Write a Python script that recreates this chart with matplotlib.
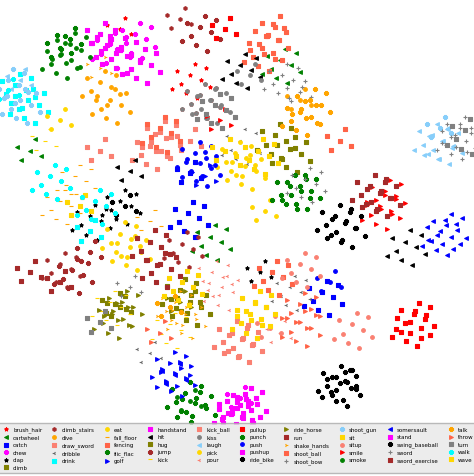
import matplotlib
matplotlib.use("Agg")
import matplotlib.pyplot as plt

# class name, colour, marker, cluster centres (pixel coords of the reference, y down)
labels = ["brush_hair", "cartwheel", "catch", "chew", "clap", "climb",
          "climb_stairs", "dive", "draw_sword", "dribble", "drink",
          "eat", "fall_floor", "fencing", "flic_flac", "golf",
          "handstand", "hit", "hug", "jump", "kick",
          "kick_ball", "kiss", "laugh", "pick", "pour",
          "pullup", "punch", "push", "pushup", "ride_bike",
          "ride_horse", "run", "shake_hands", "shoot_ball", "shoot_bow",
          "shoot_gun", "sit", "situp", "smile", "smoke",
          "somersault", "stand", "swing_baseball", "sword", "sword_exercise",
          "talk", "throw", "turn", "walk", "wave"]
colors = ["red", "green", "blue", "magenta", "black", "olive",
          "brown", "orange", "salmon", "dimgray", "cyan",
          "gold", "orange", "tomato", "green", "blue",
          "magenta", "black", "olive", "brown", "gold",
          "salmon", "gray", "lightskyblue", "gold", "salmon",
          "red", "green", "blue", "magenta", "black",
          "olive", "brown", "orange", "tomato", "gray",
          "lightskyblue", "gold", "salmon", "red", "green",
          "blue", "magenta", "black", "gray", "brown",
          "orange", "tomato", "gray", "cyan", "gold"]
markers = ["*", "<", "s", "P", "*", "s",
           "h", "o", "s", "3", "s",
           "o", "_", "s", "P", ">",
           "s", "<", "s", "P", "_",
           "s", "o", "<", "o", "3",
           "s", "P", "o", "s", "P",
           ">", "s", "4", "s", "+",
           "P", "s", "o", ">", "o",
           "<", "s", "P", "+", "s",
           "P", ">", "s", "P", "s"]
centers = [[(190, 75), (200, 95), (120, 30)],
           [(280, 60), (210, 235), (30, 150)],
           [(322, 290), (188, 212), (190, 172)],
           [(110, 45), (135, 35), (240, 395)],
           [(120, 200), (90, 215), (260, 270)],
           [(275, 135), (290, 148), (115, 302)],
           [(182, 242), (60, 262), (180, 20)],
           [(100, 82), (110, 100), (300, 100)],
           [(160, 132), (150, 145), (190, 140)],
           [(290, 285), (240, 140), (150, 350)],
           [(15, 85), (28, 100), (90, 230)],
           [(235, 152), (245, 165), (60, 120)],
           [(75, 175), (60, 200), (150, 220)],
           [(268, 36), (262, 48), (340, 140)],
           [(195, 400), (185, 390), (60, 48)],
           [(175, 370), (170, 360), (205, 175)],
           [(240, 402), (232, 410), (110, 42)],
           [(405, 240), (240, 65), (130, 170)],
           [(180, 288), (190, 300), (120, 305)],
           [(200, 28), (72, 268), (90, 250)],
           [(110, 300), (170, 322), (45, 140)],
           [(232, 330), (242, 336), (100, 150)],
           [(210, 100), (200, 95), (250, 75)],
           [(432, 135), (442, 140), (20, 80)],
           [(120, 232), (130, 245), (265, 210)],
           [(212, 270), (222, 285), (280, 330)],
           [(410, 320), (414, 312), (225, 30)],
           [(300, 185), (290, 185), (70, 40)],
           [(200, 162), (195, 152), (330, 280)],
           [(232, 405), (246, 396), (105, 48)],
           [(340, 380), (336, 374), (125, 205)],
           [(122, 300), (112, 312), (180, 300)],
           [(150, 240), (160, 262), (60, 280)],
           [(175, 300), (185, 312), (100, 68)],
           [(160, 128), (272, 270), (275, 28)],
           [(305, 178), (282, 75), (130, 285)],
           [(20, 100), (8, 80), (440, 128)],
           [(182, 280), (258, 150), (80, 205)],
           [(352, 322), (300, 262), (270, 325)],
           [(385, 190), (380, 205), (220, 120)],
           [(70, 45), (60, 55), (190, 398)],
           [(440, 230), (446, 224), (175, 372)],
           [(140, 60), (120, 50), (100, 35)],
           [(335, 215), (345, 222), (345, 378)],
           [(460, 128), (455, 135), (300, 92)],
           [(370, 185), (380, 192), (30, 270)],
           [(300, 112), (310, 100), (170, 305)],
           [(300, 302), (300, 320), (160, 330)],
           [(215, 105), (465, 130), (100, 320)],
           [(95, 200), (50, 175), (8, 90)],
           [(255, 300), (250, 312), (225, 150)]]
# spread of points around a cluster centre
offsets = [(0, 0), (11, 5), (-9, 9), (5, -11), (-13, -4), (16, -7),
           (-4, 18), (20, 12), (-18, 14), (7, 23), (-21, -12), (13, -18)]

fig = plt.figure(figsize=(4.74, 4.77), dpi=100)
ax = fig.add_axes([0, 0.11, 1, 0.89])
for lab, col, mk, cs in zip(labels, colors, markers, centers):
    xs, ys = [], []
    for k, (cx, cy) in enumerate(cs):
        n = 10 if k < 2 else 5
        for dx, dy in offsets[:n]:
            xs.append(cx + dx)
            ys.append(cy + dy)
    ax.scatter(xs, ys, c=col, marker=mk, s=7, linewidths=0.8, label=lab)
ax.set_xlim(0, 474)
ax.set_ylim(420, 0)
ax.axis("off")

leg = fig.legend(loc="lower center", bbox_to_anchor=(0.5, 0.0), ncol=10,
                 fontsize=4, markerscale=1.0, handletextpad=0.3,
                 columnspacing=1.2, labelspacing=0.45, frameon=True,
                 fancybox=False, borderpad=0.6)
leg.get_frame().set_facecolor("#e8e8e8")
leg.get_frame().set_edgecolor("#aaaaaa")
fig.savefig("out.png", dpi=100)
